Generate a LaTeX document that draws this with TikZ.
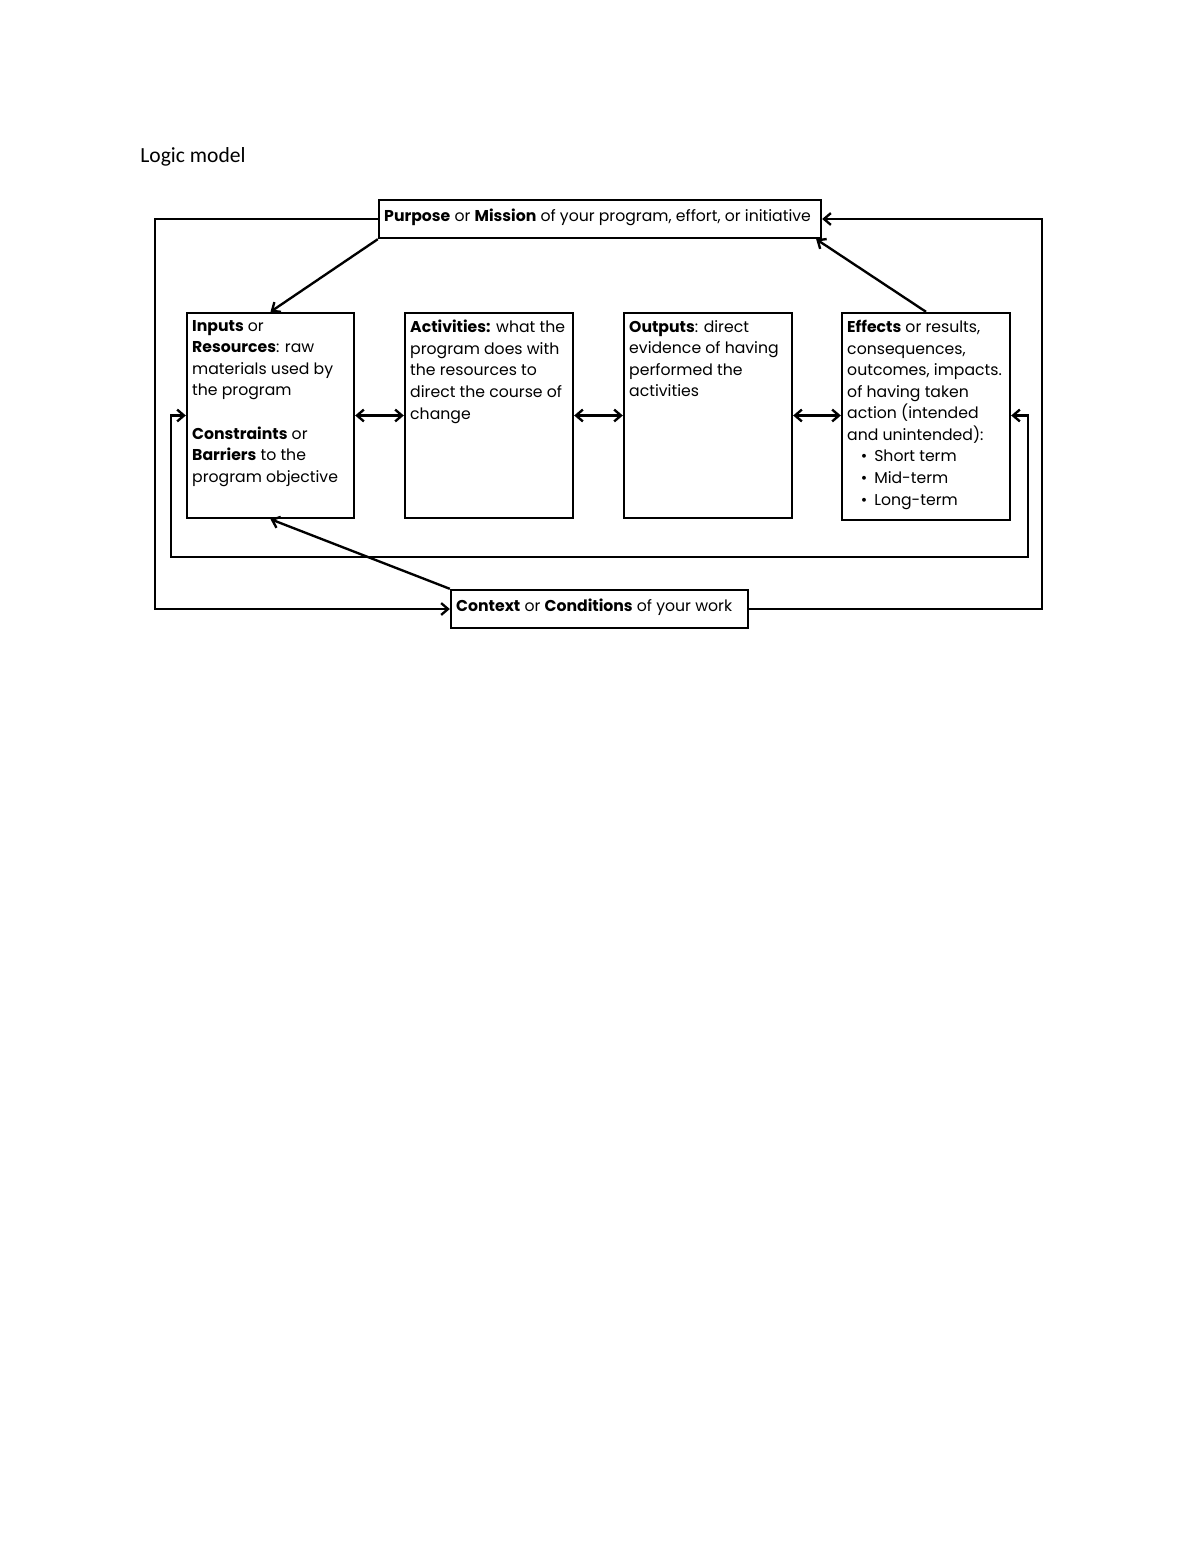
\documentclass[tikz,border=0pt]{standalone}
\usepackage{fontspec}
\setmainfont{Carlito}
\newfontfamily\boxfont{Poppins}
\usetikzlibrary{arrows.meta}
\tikzset{
  box/.style={draw, line width=1.2pt, inner sep=0pt, minimum width=#1},
  box/.default={168*0.51pt},
  boxtext/.style={anchor=north west, inner sep=0pt, align=left, font=\boxfont\fontsize{8}{11}\selectfont},
  conn/.style={line width=1.2pt, -{Straight Barb[length=3.5pt,width=6pt]}},
  dconn/.style={line width=1.2pt, {Straight Barb[length=3.5pt,width=6pt]}-{Straight Barb[length=3.5pt,width=6pt]}},
  line/.style={line width=1.2pt}
}
\begin{document}
\begin{tikzpicture}[x=0.51pt, y=-0.51pt]
\useasboundingbox (0,0) rectangle (1200,1553);
\node[anchor=base west, inner sep=0pt, font=\fontsize{11}{13}\selectfont] (title) at (140,163) {Logic model};

% main boxes
\node[box=442*0.51pt, minimum height=38*0.51pt] (purpose) at (600,219) {};
\node[box=167*0.51pt, minimum height=205*0.51pt] (inputs) at (270.5,415.5) {};
\node[box, minimum height=205*0.51pt] (activities) at (489,415.5) {};
\node[box, minimum height=205*0.51pt] (outputs) at (708,415.5) {};
\node[box, minimum height=207*0.51pt] (effects) at (926,416.5) {};
\node[box=297*0.51pt, minimum height=38*0.51pt] (context) at (599.5,609) {};

% texts
\node[boxtext, anchor=west] (purposetext) at ([xshift=6*0.51pt, yshift=2*0.51pt]purpose.west) {\textbf{Purpose} or \textbf{Mission} of your program, effort, or initiative};
\node[boxtext] (inputstext) at ([xshift=6*0.51pt, yshift=-8*0.51pt]inputs.north west)
  {\textbf{Inputs} or\\ \textbf{Resources}: raw\\ materials used by\\ the program\\[11pt] \textbf{Constraints} or\\ \textbf{Barriers} to the\\ program objective};
\node[boxtext] (activitiestext) at ([xshift=6*0.51pt, yshift=-8*0.51pt]activities.north west)
  {\textbf{Activities:} what the\\ program does with\\ the resources to\\ direct the course of\\ change};
\node[boxtext] (outputstext) at ([xshift=6*0.51pt, yshift=-8*0.51pt]outputs.north west)
  {\textbf{Outputs}: direct\\ evidence of having\\ performed the\\ activities};
\node[boxtext] (effectstext) at ([xshift=6*0.51pt, yshift=-8*0.51pt]effects.north west)
  {\textbf{Effects} or results,\\ consequences,\\ outcomes, impacts.\\ of having taken\\ action (intended\\ and unintended):\\
   \hspace*{7pt}\textbullet\hspace{3.5pt}Short term\\
   \hspace*{7pt}\textbullet\hspace{3.5pt}Mid-term\\
   \hspace*{7pt}\textbullet\hspace{3.5pt}Long-term};
\node[boxtext, anchor=west] (contexttext) at ([xshift=6*0.51pt, yshift=2*0.51pt]context.west) {\textbf{Context} or \textbf{Conditions} of your work};

% loop corner coordinates
\coordinate (ol) at (155,219);
\coordinate (olb) at (155,609);
\coordinate (or) at (1042,609);
\coordinate (ort) at (1042,219);
\coordinate (il) at (171,557);
\coordinate (ir) at (1028,557);

% connectors
\draw[conn] (purpose.south west) -- (inputs.north);
\draw[conn] (effects.north) -- ([xshift=-6*0.51pt]purpose.south east);
\draw[dconn] (inputs.east) -- (activities.west);
\draw[dconn] (activities.east) -- (outputs.west);
\draw[dconn] (outputs.east) -- (effects.west |- outputs.east);
\draw[conn] (context.north west) -- (inputs.south);
\draw[conn] (purpose.west) -- (ol) -- (olb) -- (context.west);
\draw[conn] (context.east) -- (or) -- (ort) -- (purpose.east);
\draw[dconn] (inputs.west) -| (il) -- (ir) |- (effects.east |- inputs.west);
\end{tikzpicture}
\end{document}
